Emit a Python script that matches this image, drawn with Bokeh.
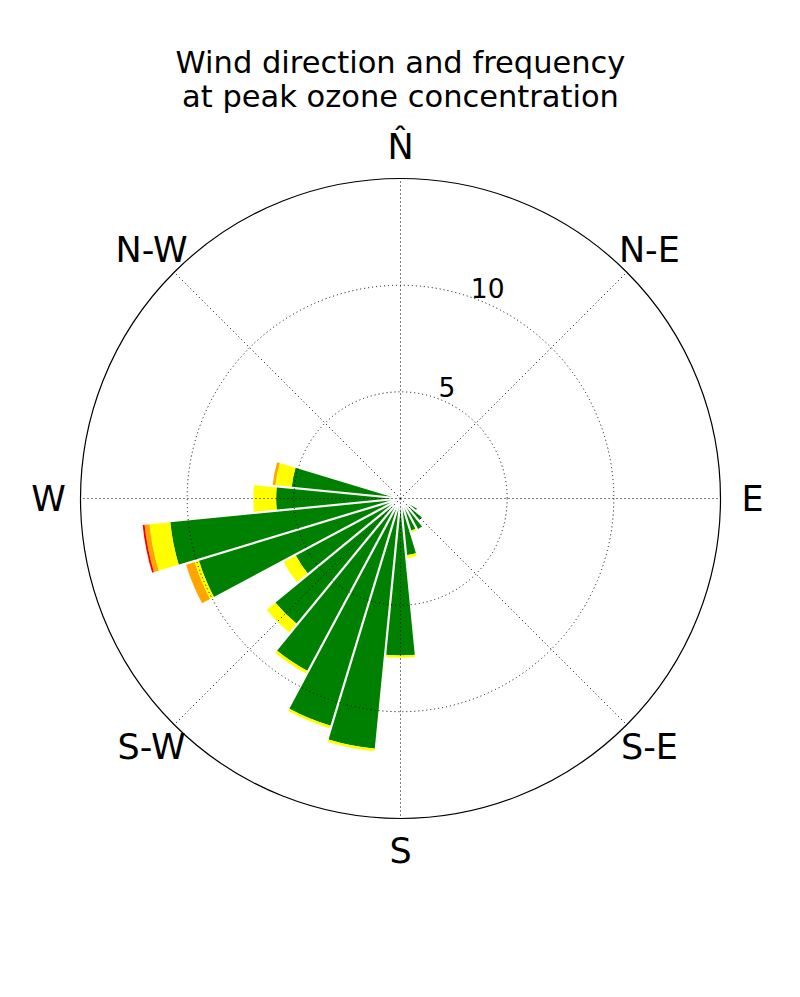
import numpy as np
from bokeh.plotting import figure
from bokeh.models import Range1d, ColumnDataSource
from bokeh.core.properties import value
from bokeh.embed import file_html
from bokeh.resources import INLINE

# ---- data (compass direction in degrees, frequency per speed class) ----
directions = [112.5, 123.75, 135, 146.25, 157.5, 168.75, 180, 191.25, 202.5, 213.75,
              225, 236.25, 247.5, 258.75, 270, 281.25, 292.5, 315]
green  = [0.5, 0.9, 1.34, 1.65, 1.58, 2.67, 7.36, 11.79, 11.15, 9.18,
          7.63, 5.59, 9.89, 10.85, 5.83, 5.13, 0.55, 0.35]
yellow = [0, 0, 0, 0, 0.08, 0.13, 0.10, 0.12, 0.12, 0.15,
          0.54, 0.65, 0.21, 0.98, 1.07, 0.77, 0.10, 0]
orange = [0, 0, 0, 0, 0, 0, 0, 0, 0, 0,
          0, 0, 0.42, 0.23, 0, 0.13, 0, 0]
red    = [0, 0, 0, 0, 0, 0, 0, 0, 0, 0,
          0, 0, 0, 0.09, 0, 0, 0, 0]
series = [green, yellow, orange, red]
series_colors = ["#008000", "#ffff00", "#ffa500", "#ff0000"]
nsector = 32

ring_values = [5, 10]
ring_labels = ["5", "10"]
r_max = 15
dir_label_angles = [0, 45, 90, 135, 180, 225, 270, 315]
dir_labels = ["N\u0302", "N-E", "E", "S-E", "S", "S-W", "W", "N-W"]
title_lines = ["Wind direction and frequency", "at peak ozone concentration"]

FONT = value("DejaVu Sans")

# ---- figure ----
px_per_unit = 320 / r_max
W, H = 784, 981
cx, cy = 400, 498
p = figure(width=W, height=H, output_backend="svg", toolbar_location=None,
           x_range=Range1d(-cx / px_per_unit, (W - cx) / px_per_unit),
           y_range=Range1d(-(H - cy) / px_per_unit, cy / px_per_unit),
           min_border=0, outline_line_color=None)
p.axis.visible = False
p.grid.visible = False

def math_angle(compass_deg):
    return np.deg2rad(90.0 - np.asarray(compass_deg, dtype=float))

half = np.pi / nsector
ang = math_angle(directions)
base = np.zeros(len(directions))
for vals, col in zip(series, series_colors):
    vals = np.asarray(vals, dtype=float)
    src = ColumnDataSource(dict(
        x=np.zeros(len(vals)), y=np.zeros(len(vals)),
        inner=base.copy(), outer=base + vals,
        start=ang - half, end=ang + half))
    p.annular_wedge(x="x", y="y", inner_radius="inner", outer_radius="outer",
                    start_angle="start", end_angle="end", source=src,
                    fill_color=col, line_color=None)
    base = base + vals

# white gaps between sectors
bounds = np.arange(nsector) * 360.0 / nsector + 180.0 / nsector
p.ray(x=0, y=0, length=r_max - 0.2, angle=math_angle(bounds),
      line_color="white", line_width=2.2)

# grid
p.circle(x=[0] * len(ring_values), y=[0] * len(ring_values), radius=ring_values,
         fill_color=None, line_color="black", line_width=1, line_dash="1 3")
p.ray(x=0, y=0, length=r_max, angle=math_angle(dir_label_angles),
      line_color="black", line_width=1, line_dash="1 3")
p.circle(x=[0], y=[0], radius=[r_max], fill_color=None, line_color="black",
         line_width=1.2)

# radial labels
rl_ang = math_angle([22.5] * len(ring_values))
rl_r = np.asarray(ring_values, dtype=float) + 0.68
p.text(x=rl_r * np.cos(rl_ang), y=rl_r * np.sin(rl_ang), text=ring_labels,
       text_font=FONT, text_font_size="26.5px", text_align="center",
       text_baseline="middle", text_color="black")

# direction labels
dl_ang = math_angle(dir_label_angles)
dl_r = 16.5
p.text(x=dl_r * np.cos(dl_ang), y=dl_r * np.sin(dl_ang), text=dir_labels,
       text_font=FONT, text_font_size="35px", text_align="center",
       text_baseline="middle", text_color="black")

# title
top = cy / px_per_unit
p.text(x=[0, 0], y=[top - 62 / px_per_unit, top - 96 / px_per_unit], text=title_lines,
       text_font=FONT, text_font_size="30.5px", text_align="center",
       text_baseline="middle", text_color="black")

open("out.html", "w").write(file_html(p, INLINE))
